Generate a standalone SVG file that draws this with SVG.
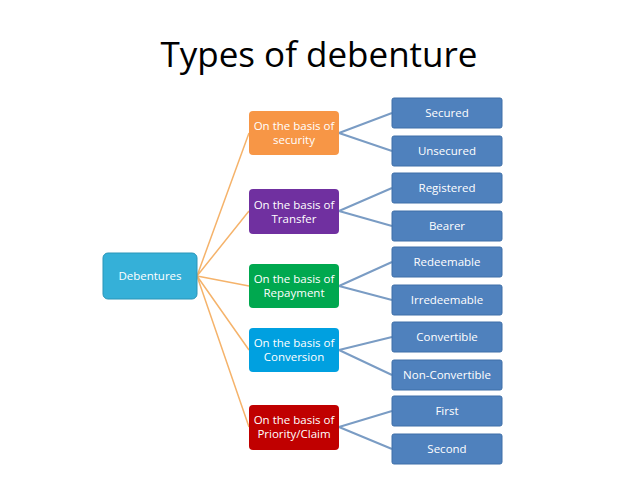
<svg xmlns="http://www.w3.org/2000/svg" width="638" height="479" viewBox="0 0 638 479">
<style>
text{font-family:"Open Sans","Liberation Sans",sans-serif;fill:#fff;font-size:11.5px;text-anchor:middle}
.t{fill:#000;font-size:35px;font-family:"Open Sans","Liberation Sans",sans-serif}
.leaf{fill:#4f81bd;stroke:#3f6fa8;stroke-width:1}
.mid{stroke-width:1}
.c1{stroke:#f5b36b;stroke-width:1.5;fill:none}
.c2{stroke:#7a9cc4;stroke-width:2;fill:none}
</style>
<rect width="638" height="479" fill="#fff"/>
<text class="t" x="319" y="67">Types of debenture</text>
<g id="connectors">
<path class="c1" d="M197 276L249 133M197 276L249 211M197 276L249 286M197 276L249 350M197 276L249 427"/>
<path class="c2" d="M339 133L392 113M339 133L392 151M339 211L392 188M339 211L392 226M339 286L392 262M339 286L392 300M339 350L392 337M339 350L392 375M339 427L392 411M339 427L392 449"/>
</g>
<g id="debentures"><rect x="103" y="253" width="94" height="46" rx="5" fill="#35b0d8" stroke="#2a95b8"/><text x="150" y="280">Debentures</text></g>
<g id="security"><rect x="249" y="111" width="90" height="44" rx="4" fill="#f79646"/><text x="294" y="130">On the basis of</text><text x="294" y="144">security</text></g>
<g id="transfer"><rect x="249" y="189" width="90" height="45" rx="4" fill="#7030a0"/><text x="294" y="209">On the basis of</text><text x="294" y="223">Transfer</text></g>
<g id="repayment"><rect x="249" y="264" width="90" height="44" rx="4" fill="#00a84f"/><text x="294" y="283">On the basis of</text><text x="294" y="297">Repayment</text></g>
<g id="conversion"><rect x="249" y="328" width="90" height="44" rx="4" fill="#00a0e0"/><text x="294" y="347">On the basis of</text><text x="294" y="361">Conversion</text></g>
<g id="priority"><rect x="249" y="405" width="90" height="45" rx="4" fill="#c00000"/><text x="294" y="424">On the basis of</text><text x="294" y="438">Priority/Claim</text></g>
<g id="secured"><rect class="leaf" x="392" y="98" width="110" height="30" rx="2"/><text x="447" y="117">Secured</text></g>
<g id="unsecured"><rect class="leaf" x="392" y="136" width="110" height="30" rx="2"/><text x="447" y="155">Unsecured</text></g>
<g id="registered"><rect class="leaf" x="392" y="173" width="110" height="30" rx="2"/><text x="447" y="192">Registered</text></g>
<g id="bearer"><rect class="leaf" x="392" y="211" width="110" height="30" rx="2"/><text x="447" y="230">Bearer</text></g>
<g id="redeemable"><rect class="leaf" x="392" y="247" width="110" height="30" rx="2"/><text x="447" y="266">Redeemable</text></g>
<g id="irredeemable"><rect class="leaf" x="392" y="285" width="110" height="30" rx="2"/><text x="447" y="304">Irredeemable</text></g>
<g id="convertible"><rect class="leaf" x="392" y="322" width="110" height="30" rx="2"/><text x="447" y="341">Convertible</text></g>
<g id="nonconvertible"><rect class="leaf" x="392" y="360" width="110" height="30" rx="2"/><text x="447" y="379">Non-Convertible</text></g>
<g id="first"><rect class="leaf" x="392" y="396" width="110" height="30" rx="2"/><text x="447" y="415">First</text></g>
<g id="second"><rect class="leaf" x="392" y="434" width="110" height="30" rx="2"/><text x="447" y="453">Second</text></g>
</svg>
